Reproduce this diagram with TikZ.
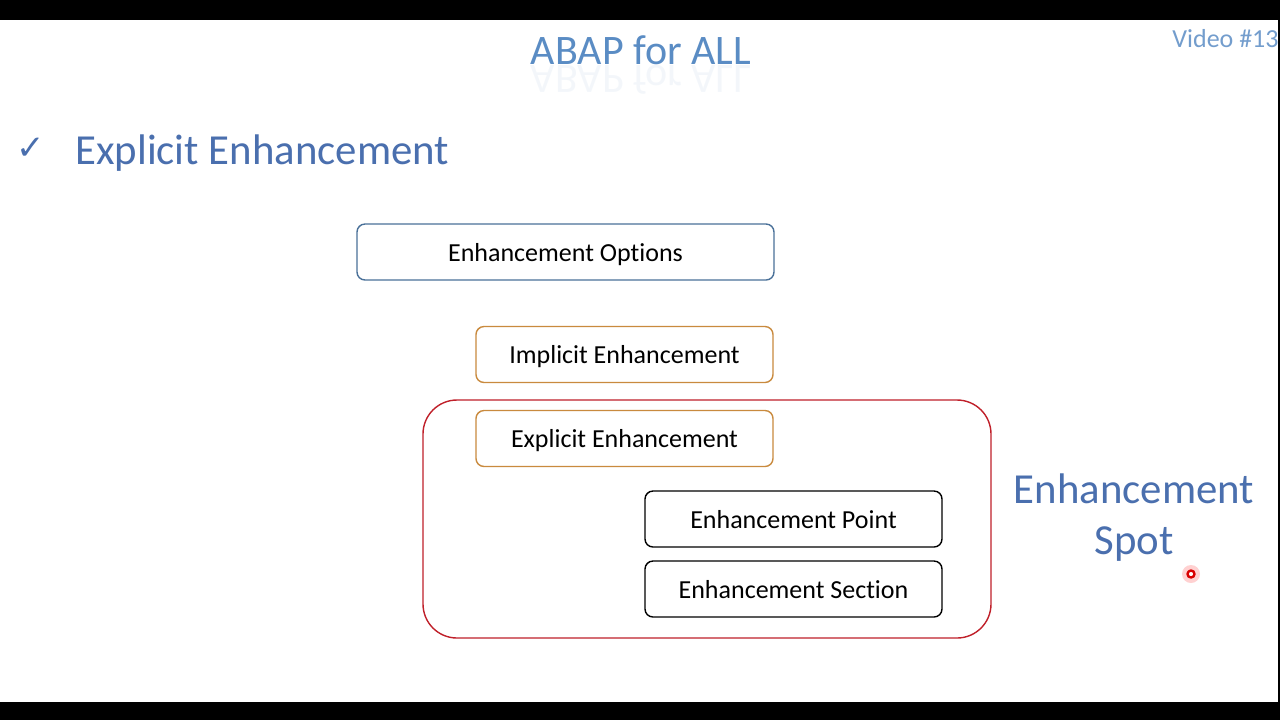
\documentclass[tikz,border=0pt]{standalone}
\usepackage{fontspec}
\setmainfont[Ligatures=NoCommon]{Carlito}
\newfontfamily\symfont{DejaVu Sans}
\definecolor{headblue}{HTML}{4A6FAE}
\definecolor{titleblue}{HTML}{5A8CC4}
\definecolor{optblue}{HTML}{4A7199}
\definecolor{optorange}{HTML}{C98A3E}
\definecolor{spotred}{HTML}{C0202A}
\begin{document}
\begin{tikzpicture}[x=0.5pt, y=-0.5pt, line join=round, line cap=round,
	box/.style={draw, line width=0.7pt, rounded corners=4pt, minimum height=28pt, font=\fontsize{13}{15}\selectfont, inner sep=0pt, text height=10pt, text depth=0.8pt},
	bigtext/.style={text=headblue, font=\fontsize{21.4}{25.5}\selectfont, inner sep=0pt}]
		\useasboundingbox (0,0) rectangle (1280,720);
		\fill[white] (0,0) rectangle (1280,720);
		\fill[black] (0,0) rectangle (1280,20);
		\fill[black] (0,702) rectangle (1280,720);
		\fill[black] (1278,0) rectangle (1280,720);
		% title with reflection
		\node[text=titleblue, font=\fontsize{21}{25}\selectfont, inner sep=0pt] (title) at (641,50) {ABAP for ALL};
		\node[text=titleblue, font=\fontsize{21}{25}\selectfont, inner sep=0pt, yscale=-1, opacity=0.07, anchor=north] (titlerefl) at (641,95) {ABAP for ALL};
		\node[text=titleblue!85, font=\fontsize{13}{15}\selectfont, inner sep=0pt, anchor=west] (video) at (1172,39) {Video \#13};
		% heading
		\node[text=headblue, font=\symfont\fontsize{17}{20}\selectfont, inner sep=0pt] (check) at (31,149) {✓};
		\node[bigtext, anchor=west] (heading) at (75,153) {Explicit Enhancement};
		% boxes
		\node[box, draw=optblue, minimum width=208.5pt] (opts) at (565.5,252) {Enhancement Options};
		\node[box, draw=optorange, minimum width=148.5pt] (impl) at (624.5,354.5) {Implicit Enhancement};
		\node[draw=spotred, line width=0.7pt, rounded corners=17pt, minimum width=284pt, minimum height=119pt, inner sep=0pt] (spot) at (707,519) {};
		\node[box, draw=optorange, minimum width=148.5pt] (expl) at (624.5,438.5) {Explicit Enhancement};
		\node[box, draw=black, minimum width=148.5pt] (point) at (793.5,519) {Enhancement Point};
		\node[box, draw=black, minimum width=148.5pt] (section) at (793.5,589) {Enhancement Section};
		\node[bigtext, align=center] (spotlabel) at (1134,518) {Enhancement\\Spot};
		% pointer
		\coordinate (dot) at (1191,574);
		\fill[red!18] (dot) circle (9);
		\draw[red!85!black, line width=1.2pt, fill=white] (dot) circle (3.5);
\end{tikzpicture}
\end{document}
